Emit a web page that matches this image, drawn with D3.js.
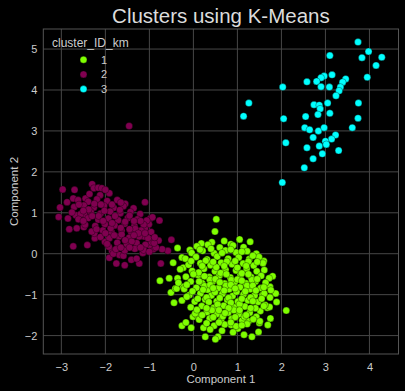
<!DOCTYPE html>
<html><head><meta charset="utf-8">
<script src="https://cdn.jsdelivr.net/npm/d3@7"></script>
<style>html,body{margin:0;padding:0;background:#000;}svg{display:block;}</style>
</head><body>
<script>
const clusterLabels = ["1","2","3"];
const clusterColors = ["#7fff00","#800050","#00ffff"];
const xTicks = [-3,-2,-1,0,1,2,3,4];
const yTicks = [-2,-1,0,1,2,3,4,5];
const titleText = "Clusters using K-Means";
const xLabel = "Component 1";
const yLabel = "Component 2";
const legendTitle = "cluster_ID_km";

const cluster2 = [
[-2.30,1.70],[-2.97,1.57],[-2.70,1.56],[-2.26,1.60],[-2.16,1.61],[-2.08,1.60],[-2.87,1.26],[-2.73,1.35],[-3.03,1.13],[-2.45,1.35],[-3.06,0.90],[-2.85,0.86],[-2.67,0.94],[-2.48,0.96],[-2.82,0.60],[-2.65,0.62],[-2.49,0.65],[-2.73,0.18],[-2.41,0.21],[-2.24,0.38],[-2.25,0.50],[-2.01,0.29],[-1.91,-0.10],[-1.85,0.07],[-1.92,0.17],
[-1.10,1.26],[-0.77,0.81],[-0.50,0.34],[-0.79,0.32],[-0.74,-0.24],[-0.91,0.11],[-0.58,0.07],[-0.71,0.11],[-1.23,-0.24],[-1.56,-0.28],[-1.41,-0.15],[-1.29,-0.12],[-1.15,0.02],[-1.00,0.21],[-0.95,0.28],[-0.85,0.15],[-0.98,0.86],[-0.93,0.89],[-1.01,0.72],[-1.12,0.42],[-1.10,0.61],[-1.68,-0.03],[-1.82,0.00],[-1.59,-0.05],[-1.75,-0.24],
[-1.46,3.12],
[-2.36,1.46],[-2.12,1.43],[-1.91,1.48],[-2.0,1.56],
[-2.62,1.31],[-2.39,1.27],[-2.19,1.33],[-1.96,1.29],[-1.73,1.31],[-1.55,1.22],
[-2.71,1.14],[-2.49,1.18],[-2.26,1.13],[-2.03,1.17],[-1.81,1.12],[-1.59,1.16],[-1.36,1.11],
[-2.76,1.01],[-2.56,0.97],[-2.33,1.02],[-2.11,0.98],[-1.89,1.03],[-1.66,0.99],[-1.43,1.02],[-1.21,0.97],
[-2.61,0.84],[-2.39,0.87],[-2.16,0.83],[-1.93,0.86],[-1.71,0.82],[-1.49,0.87],[-1.27,0.84],[-1.06,0.81],
[-2.46,0.71],[-2.23,0.68],[-2.01,0.72],[-1.79,0.69],[-1.56,0.73],[-1.34,0.68],[-1.13,0.71],
[-2.31,0.54],[-2.06,0.57],[-1.86,0.53],[-1.63,0.56],[-1.41,0.52],[-1.19,0.57],[-0.96,0.53],
[-2.11,0.41],[-1.91,0.38],[-1.69,0.42],[-1.46,0.39],[-1.23,0.42],[-1.03,0.38],
[-1.96,0.24],[-1.73,0.27],[-1.51,0.23],[-1.29,0.26],[-1.09,0.22],[-0.89,0.26],
[-1.76,0.11],[-1.56,0.08],[-1.33,0.12],[-1.13,0.09],
[-2.25,1.22],[-2.02,1.05],[-1.78,0.92],[-1.55,0.78],[-1.32,0.61],[-1.63,0.47],[-1.88,0.62],[-2.15,0.92],[-2.38,1.08],[-1.4,0.3],[-1.2,0.15],[-1.67,1.07],[-1.45,0.93],
[-2.5,1.05],[-2.3,0.92],[-2.05,0.8],[-1.85,0.75],[-1.65,0.63],[-1.45,0.6],[-1.25,0.5],[-1.55,0.33],[-1.35,0.45],[-1.8,0.45],[-2.0,0.5],[-2.2,0.6],[-2.5,0.8],[-2.1,1.2],[-1.85,1.2],[-1.65,1.25],[-2.6,1.2],[-1.2,0.8],[-1.35,0.8],[-1.1,0.5],[-0.88,0.4],[-1.0,0.05],[-1.45,0.15],[-1.65,0.15]
];

const cluster1 = [
[0.52,0.84],[0.49,0.54],[-0.36,0.14],[-0.76,-0.66],[-0.44,-1.20],[-0.51,-0.95],[2.11,-1.39],[-0.26,-1.76],[0.27,-2.03],[0.56,-2.03],[1.33,-2.03],[1.15,-1.98],[1.48,-1.91],[1.69,-1.74],[1.89,-1.18],[1.87,-0.97],[1.80,-0.55],[1.61,-0.40],[1.60,-0.18],[1.29,0.29],[1.05,0.35],[0.85,0.23],[0.42,0.28],[0.18,0.25],[-0.08,0.09],[-0.26,-0.09],[-0.46,-0.22],[-0.55,-0.60],[-0.41,-0.85],[-0.05,-1.81],[0.23,-1.81],[0.86,-1.74],[1.01,-1.83],[1.50,-1.69],[1.75,-1.58],[1.68,-1.32],[0.50,-2.09],
[1.74,-0.81],[1.73,-1.30],[1.52,-1.40],[1.43,-1.54],[1.51,-1.65],[1.25,-1.65],[1.57,-1.01],[1.74,-1.07],[1.63,-1.25],
[-0.23,-0.34],[-0.36,-0.60],[-0.38,-0.85],[-0.23,-0.81],[-0.01,-1.54],[0.08,-1.50],[-0.17,-1.68],
[0.08,0.18],[0.33,0.22],[0.6,0.15],[0.9,0.2],[1.14,0.16],[0.7,0.31],
[-0.04,0.02],[0.21,0.07],[0.47,0.01],[0.73,0.08],[0.97,0.03],[1.22,0.06],[1.43,0.0],
[-0.18,-0.12],[0.06,-0.08],[0.31,-0.14],[0.54,-0.07],[0.79,-0.12],[1.03,-0.09],[1.27,-0.13],[1.49,-0.08],
[-0.11,-0.27],[0.16,-0.23],[0.39,-0.28],[0.63,-0.22],[0.88,-0.26],[1.13,-0.24],[1.37,-0.29],[1.58,-0.23],
[-0.3,-0.38],[-0.03,-0.42],[0.24,-0.37],[0.49,-0.43],[0.73,-0.39],[0.97,-0.41],[1.21,-0.37],[1.44,-0.43],
[-0.17,-0.56],[0.11,-0.52],[0.36,-0.57],[0.59,-0.53],[0.84,-0.58],[1.07,-0.52],[1.31,-0.57],[1.54,-0.54],[1.72,-0.6],
[-0.34,-0.71],[-0.06,-0.68],[0.2,-0.72],[0.44,-0.67],[0.71,-0.73],[0.94,-0.69],[1.19,-0.72],[1.41,-0.68],[1.64,-0.71],
[-0.21,-0.86],[0.07,-0.83],[0.33,-0.88],[0.57,-0.84],[0.81,-0.87],[1.06,-0.82],[1.29,-0.87],[1.53,-0.84],[1.76,-0.89],
[-0.09,-1.01],[0.16,-0.97],[0.41,-1.02],[0.66,-0.98],[0.89,-1.03],[1.14,-0.99],[1.39,-1.02],[1.61,-0.97],
[-0.26,-1.14],[0.03,-1.17],[0.27,-1.12],[0.53,-1.16],[0.77,-1.13],[1.01,-1.17],[1.24,-1.14],[1.47,-1.18],
[-0.06,-1.31],[0.19,-1.28],[0.46,-1.32],[0.69,-1.27],[0.93,-1.31],[1.17,-1.29],[1.41,-1.33],[1.6,-1.28],
[0.04,-1.46],[0.31,-1.43],[0.54,-1.47],[0.79,-1.44],[1.04,-1.48],[1.28,-1.44],
[0.13,-1.61],[0.37,-1.58],[0.63,-1.62],[0.87,-1.59],[1.11,-1.63],[1.36,-1.6],
[0.47,-1.76],[0.71,-1.73],[0.97,-1.77],[1.22,-1.72],
[0.28,-0.17],[0.52,-0.33],[0.76,-0.19],[1.0,-0.34],[1.25,-0.19],[0.12,-0.46],[0.37,-0.63],[0.62,-0.47],[0.86,-0.64],[1.1,-0.48],[1.33,-0.64],[0.25,-0.79],[0.49,-0.94],[0.74,-0.78],[0.98,-0.93],[1.22,-0.78],[0.3,-1.07],[0.55,-1.24],[0.8,-1.08],[1.05,-1.23],[1.3,-1.07],[0.42,-1.38],[0.67,-1.53],[0.92,-1.38],[1.16,-1.54],
[0.15,0.1],[0.4,0.12],[0.65,0.02],[0.85,0.1],[1.1,0.05],[1.35,-0.05],
[-0.05,-0.18],[0.2,-0.3],[0.45,-0.2],[0.7,-0.3],[0.95,-0.18],[1.2,-0.3],[1.45,-0.2],
[0.0,-0.5],[0.25,-0.55],[0.5,-0.62],[0.75,-0.5],[1.0,-0.63],[1.25,-0.5],[1.45,-0.62],
[-0.15,-0.76],[0.13,-0.68],[0.38,-0.76],[0.6,-0.7],[0.85,-0.76],[1.1,-0.66],[1.35,-0.78],[1.6,-0.82],
[-0.02,-0.92],[0.22,-0.88],[0.45,-0.84],[0.7,-0.9],[0.95,-0.85],[1.18,-0.92],[1.42,-0.9],
[-0.15,-1.05],[0.1,-1.1],[0.35,-1.18],[0.6,-1.08],[0.85,-1.2],[1.1,-1.1],[1.35,-1.16],[1.55,-1.1],
[0.08,-1.37],[0.3,-1.33],[0.58,-1.38],[0.8,-1.33],[1.05,-1.38],[1.3,-1.33],
[0.2,-1.5],[0.45,-1.55],[0.72,-1.45],[0.95,-1.55],[1.2,-1.5],
[0.3,-1.7],[0.58,-1.68],[0.85,-1.68],[1.1,-1.75],[0.38,-1.85],[0.65,-1.88],[0.9,-1.92]
];

const cluster3 = [
[3.74,5.17],[3.98,4.94],[4.28,4.80],[3.83,4.79],[4.15,4.60],[3.10,4.84],[3.95,4.31],[3.46,4.27],[3.39,4.19],[3.15,4.37],[2.97,4.34],[2.90,4.30],[2.80,4.21],[2.58,4.20],[2.90,4.08],[3.09,4.07],[3.34,4.07],[3.31,3.98],[3.24,3.86],[2.03,4.07],[1.26,3.68],[1.14,3.36],[2.74,3.64],[2.86,3.63],[3.05,3.68],[2.88,3.54],[3.75,3.68],[3.10,3.43],[2.83,3.40],[2.55,3.35],[3.74,3.31],[2.05,3.30],[2.53,3.08],[2.64,3.03],[2.84,3.00],[2.97,3.08],[3.61,3.08],[3.23,2.90],[3.14,2.80],[2.72,2.84],[3.00,2.75],[2.10,2.71],[3.02,2.67],[2.86,2.63],[2.58,2.59],[3.30,2.52],[2.93,2.44],[2.72,2.32],[2.52,2.10],[2.02,1.74]
];

const W = 405, H = 391;
const plot = {left: 43.3, right: 398.5, top: 29, bottom: 354};
const x = d3.scaleLinear().domain([-3.41, 4.66]).range([plot.left, plot.right]);
const y = d3.scaleLinear().domain([-2.45, 5.49]).range([plot.bottom, plot.top]);

const svg = d3.select("body").append("svg").attr("width", W).attr("height", H)
  .style("font-family", "'Liberation Sans', Arial, sans-serif");
svg.append("rect").attr("width", W).attr("height", H).attr("fill", "#000");

const gridColor = "#474747";
svg.append("g").selectAll("line").data(xTicks).join("line")
  .attr("x1", d => x(d)).attr("x2", d => x(d))
  .attr("y1", plot.top).attr("y2", plot.bottom)
  .attr("stroke", gridColor).attr("stroke-width", 1);
svg.append("g").selectAll("line").data(yTicks).join("line")
  .attr("y1", d => y(d)).attr("y2", d => y(d))
  .attr("x1", plot.left).attr("x2", plot.right)
  .attr("stroke", gridColor).attr("stroke-width", 1);
svg.append("rect").attr("x", plot.left).attr("y", plot.top)
  .attr("width", plot.right - plot.left).attr("height", plot.bottom - plot.top)
  .attr("fill", "none").attr("stroke", "#555").attr("stroke-width", 1);

const xAxis = d3.axisBottom(x).tickValues(xTicks).tickSize(0).tickPadding(9)
  .tickFormat(d => d < 0 ? "\u2212" + Math.abs(d) : String(d));
const gx = svg.append("g").attr("transform", `translate(0,${plot.bottom})`).call(xAxis);
gx.select(".domain").remove();
gx.selectAll("text").attr("fill", "#cccccc").style("font-size", "11px").style("font-family", "'Liberation Sans', Arial, sans-serif");

const yAxis = d3.axisLeft(y).tickValues(yTicks).tickSize(0).tickPadding(6)
  .tickFormat(d => d < 0 ? "\u2212" + Math.abs(d) : String(d));
const gy = svg.append("g").attr("transform", `translate(${plot.left},0)`).call(yAxis);
gy.select(".domain").remove();
gy.selectAll("text").attr("fill", "#cccccc").style("font-size", "11px").style("font-family", "'Liberation Sans', Arial, sans-serif");

const clusters = [cluster2, cluster1, cluster3];
const colorIdx = [1, 0, 2];
clusters.forEach((pts, i) => {
  svg.append("g").selectAll("circle").data(pts).join("circle")
    .attr("cx", d => x(d[0])).attr("cy", d => y(d[1])).attr("r", 3.5)
    .attr("fill", clusterColors[colorIdx[i]])
    .attr("stroke", "rgba(0,0,0,0.55)").attr("stroke-width", 0.6);
});

svg.append("text").attr("x", (plot.left + plot.right) / 2).attr("y", 22.5)
  .attr("text-anchor", "middle").attr("fill", "#dcdcdc").style("font-size", "20.5px").text(titleText);
svg.append("text").attr("x", (plot.left + plot.right) / 2).attr("y", 383)
  .attr("text-anchor", "middle").attr("fill", "#cccccc").style("font-size", "11.5px").text(xLabel);
svg.append("text").attr("transform", `translate(18,${(plot.top + plot.bottom) / 2}) rotate(-90)`)
  .attr("text-anchor", "middle").attr("fill", "#cccccc").style("font-size", "11.5px").text(yLabel);

const lg = svg.append("g");
lg.append("text").attr("x", 52).attr("y", 47).attr("fill", "#cccccc").style("font-size", "12px").text(legendTitle);
clusterLabels.forEach((lab, i) => {
  const cy = 59.7 + i * 14.7;
  lg.append("circle").attr("cx", 83.5).attr("cy", cy).attr("r", 3.5)
    .attr("fill", clusterColors[i]).attr("stroke", "rgba(0,0,0,0.55)").attr("stroke-width", 0.6);
  lg.append("text").attr("x", 101).attr("y", cy + 4).attr("fill", "#cccccc").style("font-size", "11px").text(lab);
});
</script>
</body></html>
